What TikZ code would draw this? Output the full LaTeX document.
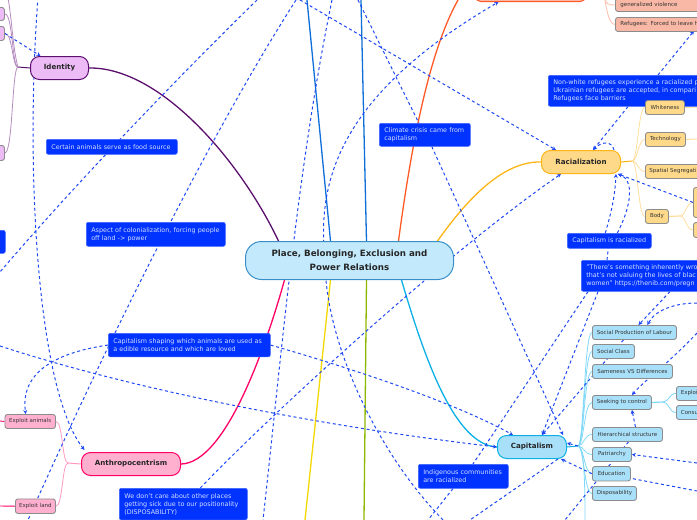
\documentclass[tikz,border=0pt]{standalone}
\usepackage{fontspec}
\setmainfont{DejaVu Sans}
\usetikzlibrary{arrows.meta}
\pgfdeclarelayer{bg}
\pgfsetlayers{bg,main}
\definecolor{dashc}{HTML}{1F48F5}
\definecolor{notef}{HTML}{0033FF}
\definecolor{notee}{HTML}{3D63FF}
\definecolor{notet}{HTML}{D5DEFF}
\definecolor{ctrf}{HTML}{C3EAFC}
\definecolor{ctre}{HTML}{3A8FC9}
\definecolor{purpc}{HTML}{5C106E}
\definecolor{purpf}{HTML}{EDBBF5}
\definecolor{purpl}{HTML}{B58CC0}
\definecolor{racc}{HTML}{FDB515}
\definecolor{racf}{HTML}{FFD98A}
\definecolor{racl}{HTML}{FFDD9C}
\definecolor{capc}{HTML}{0CB0E5}
\definecolor{capf}{HTML}{A9E0F9}
\definecolor{capl}{HTML}{7FD8F7}
\definecolor{antc}{HTML}{FF0066}
\definecolor{antf}{HTML}{FFB0CF}
\definecolor{antl}{HTML}{FF99C2}
\definecolor{orac}{HTML}{FF5A26}
\definecolor{oraf}{HTML}{F9B8A5}
\definecolor{oral}{HTML}{FFBFA8}
\definecolor{gbd}{HTML}{8C8C8C}
\definecolor{bluec}{HTML}{0F6FD8}
\definecolor{yelc}{HTML}{F2D800}
\definecolor{grnc}{HTML}{8DB800}
\tikzset{
 x=1pt,y=-1pt,
 note/.style={draw=notee,fill=notef,text=notet,rounded corners=2pt,line width=.6pt,inner xsep=5pt,inner ysep=0pt,align=left,anchor=north west,font=\fontsize{6.4}{8}\selectfont},
 leaf/.style={draw=gbd,rounded corners=2.5pt,line width=.9pt,inner sep=0pt,anchor=north west,text=black!80,font=\fontsize{5.5}{7}\selectfont},
 mainbox/.style={rounded corners=9pt,line width=1pt,inner sep=0pt,anchor=north west,text=black!85,font=\bfseries\fontsize{7.1}{8}\selectfont},
 dashlink/.style={draw=dashc,line width=1pt,dash pattern=on 3pt off 2.7pt},
 dasharrow/.style={dashlink,-{Stealth[length=4pt,width=4pt]}},
 fan/.style={line width=.8pt},
}
\begin{document}
\begin{tikzpicture}
\useasboundingbox (0,0) rectangle (697,520);
\clip (0,0) rectangle (697,520);
% centre and topics
\node[draw=ctre,fill=ctrf,rounded corners=16pt,line width=1pt,inner sep=0pt,anchor=north west,minimum width=208pt,minimum height=38pt,align=center,text=black!85,font=\bfseries\fontsize{8.7}{14}\selectfont] (c) at (245,241) {Place, Belonging, Exclusion and\\Power Relations};
\node[mainbox,draw=purpc,fill=purpf,minimum width=58pt,minimum height=23pt] (identity) at (30,56) {Identity};
\node[mainbox,draw=racc,fill=racf,minimum width=79pt,minimum height=23pt] (racial) at (541,150) {Racialization};
\node[mainbox,draw=capc,fill=capf,minimum width=69pt,minimum height=23pt] (capital) at (497,435) {Capitalism};
\node[mainbox,draw=antc,fill=antf,minimum width=99pt,minimum height=23pt] (anthro) at (81,452) {Anthropocentrism};
\node[mainbox,draw=orac,fill=oraf,rounded corners=5pt,minimum width=110pt,minimum height=20pt] (climate) at (475,-19) {};
% notes
\node[note,text width=121pt,minimum height=15pt] (n1) at (46,139) {Certain animals serve as food source};
\node[note,text width=129pt,minimum height=24pt] (n2) at (86,222) {Aspect of colonialization, forcing people\\off land -> power};
\node[note,text width=152pt,minimum height=23.5pt] (n3) at (108,333) {Capitalism shaping which animals are used as\\a edible resource and which are loved};
\node[note,text width=118pt,minimum height=31.5pt] (n4) at (119,488) {We don't care about other places\\getting sick due to our positionality\\(DISPOSABILITY)};
\node[note,text width=81pt,minimum height=23pt] (n5) at (379,123) {Climate crisis came from\\capitalism};
\node[note,text width=80pt,minimum height=24pt] (n6) at (418,464) {Indigenous communities\\are racialized};
\node[note,text width=74pt,minimum height=15pt] (n7) at (567,233) {Capitalism is racialized};
\node[note,text width=190pt,minimum height=31pt] (n8) at (548,75) {Non-white refugees experience a racialized p\\Ukrainian refugees are accepted, in compari\\Refugees face barriers};
\node[note,text width=190pt,minimum height=31pt] (n9) at (581,260) {"There's something inherently wro\\that's not valuing the lives of blac\\women" https://thenib.com/pregn};
\node[note,text width=40pt,minimum height=23pt] (n10) at (-45,230) {};
% identity leaves
\node[leaf,fill=purpf,minimum width=14pt,minimum height=13pt] (i1) at (-10,7) {};
\node[leaf,fill=purpf,minimum width=14pt,minimum height=14pt] (i2) at (-10,26) {};
\node[leaf,fill=purpf,minimum width=14pt,minimum height=15pt] (i3) at (-10,145) {};
% anthropocentrism leaves
\node[leaf,fill=antf,minimum width=50.5pt,minimum height=14pt] (animals) at (4.5,414) {Exploit animals};
\node[leaf,fill=antf,minimum width=40pt,minimum height=14.5pt] (land) at (15,498.5) {Exploit land};
% climate leaves
\node[leaf,fill=oraf,text width=120pt,inner xsep=5pt,minimum height=13pt,align=left] (gen) at (615,-2) {generalized violence};
\node[leaf,fill=oraf,text width=120pt,inner xsep=5pt,minimum height=14pt,align=left] (refu) at (615,17) {Refugees: Forced to leave h};
% racialization leaves
\node[leaf,fill=racf,minimum width=39pt,minimum height=14pt] (white) at (645,100) {Whiteness};
\node[leaf,fill=racf,minimum width=40pt,minimum height=14pt] (tech) at (645,132) {Technology};
\node[leaf,fill=racf,text width=70pt,inner xsep=4pt,minimum height=14pt,align=left] (spatial) at (645,164) {Spatial Segregati};
\node[leaf,fill=racf,minimum width=23pt,minimum height=14pt] (body) at (645,209) {Body};
\node[leaf,fill=racf,minimum width=30pt,minimum height=30pt] (b1) at (693,187) {};
\node[leaf,fill=racf,minimum width=30pt,minimum height=15pt] (b2) at (693,222) {};
% capitalism leaves
\node[leaf,fill=capf,minimum width=84pt,minimum height=14pt] (prod) at (592,325) {Social Production of Labour};
\node[leaf,fill=capf,minimum width=42pt,minimum height=14pt] (class) at (592,344) {Social Class};
\node[leaf,fill=capf,minimum width=80pt,minimum height=14pt] (same) at (592,364) {Sameness VS Differences};
\node[leaf,fill=capf,minimum width=59pt,minimum height=14pt] (seek) at (592,395) {Seeking to control};
\node[leaf,fill=capf,minimum width=70pt,minimum height=14pt] (hier) at (592,427) {Hierarchical structure};
\node[leaf,fill=capf,minimum width=39pt,minimum height=14pt] (patr) at (592,447) {Patriarchy};
\node[leaf,fill=capf,minimum width=38pt,minimum height=14.5pt] (edu) at (592,466) {Education};
\node[leaf,fill=capf,minimum width=44pt,minimum height=14pt] (disp) at (592,486) {Disposability};
\node[leaf,fill=capf,text width=40pt,inner xsep=4.5pt,minimum height=14pt,align=left] (expl) at (676,386) {Exploi};
\node[leaf,fill=capf,text width=40pt,inner xsep=4.5pt,minimum height=14pt,align=left] (cons) at (676,405) {Consu};
% free ends
\coordinate (t1) at (38,-3);
\coordinate (t2) at (257,0);
\coordinate (l2) at (0,272);
\coordinate (t3) at (296,0);
\coordinate (b3) at (28,520);
\coordinate (l4) at (0,346);
\coordinate (t5) at (332,0);
\coordinate (b5) at (263,520);
\coordinate (b6) at (443,520);
\coordinate (m6) at (325,260);
\coordinate (t7) at (295,-3);
\coordinate (t8) at (358,0);
\coordinate (r9) at (697,303);
\coordinate (r10) at (697,333);
\coordinate (r11) at (697,463);
\coordinate (r12) at (697,491);
\coordinate (b13) at (428,520);
\coordinate (b14) at (565,520);
\coordinate (b15) at (470,520);
\coordinate (tb1) at (8,-2);
\coordinate (be) at (305,520);
\coordinate (bg) at (364,520);
\coordinate (bo) at (458,0);
\coordinate (tb) at (307,0);
\coordinate (tb2) at (361,0);
\coordinate (bc) at (585,520);
\coordinate (hi) at (18,67);
\coordinate (ha) at (68,463);
\coordinate (hr) at (632,161);
\coordinate (hb) at (680,216);
\coordinate (hc) at (578,446);
\coordinate (hs) at (663,402);
\coordinate (ho) at (604,-5);
\coordinate (wr) at (697,107);
\coordinate (tr) at (697,139);
\coordinate (la) at (0,421);
\coordinate (ll) at (0,506);
\begin{pgfonlayer}{bg}
% main branches
\draw[purpc,line width=1.3pt] ([xshift=-71pt]c.north) .. controls (240,160) and (160,67) .. (identity.east);
\draw[antc,line width=1.3pt] ([xshift=-65pt]c.south) .. controls (265,350) and (225,463) .. (anthro.east);
\draw[orac,line width=1.3pt] ([xshift=49pt]c.north) .. controls (412,140) and (430,50) .. (bo);
\draw[racc,line width=1.3pt] ([xshift=88pt]c.north) .. controls (470,195) and (505,161) .. (racial.west);
\draw[capc,line width=1.3pt] ([xshift=52pt]c.south) .. controls (425,360) and (455,445) .. (capital.west);
\draw[bluec,line width=1.3pt] ([xshift=-19pt]c.north) -- (tb);
\draw[bluec,line width=1.3pt] ([xshift=17pt]c.north) -- (tb2);
\draw[yelc,line width=1.3pt] ([xshift=-19pt]c.south) -- (be);
\draw[grnc,line width=1.3pt] ([xshift=17pt]c.south) -- (bg);
% fans
\draw[purpc,line width=1pt] (identity.west) -- (hi);
\foreach \n in {i1,i2,i3} \draw[purpl,fan] (hi) .. controls (12,67) and ([xshift=8pt]\n.east) .. (\n.east);
\draw[purpl,fan] (hi) .. controls (13,50) and (12,20) .. (tb1);
\draw[antl,line width=1pt] (anthro.west) -- (ha);
\foreach \n in {animals,land} \draw[antl,fan] (ha) .. controls (62,463) and ([xshift=7pt]\n.east) .. (\n.east);
\draw[antc,line width=.9pt] (animals.west) -- (la);
\draw[antc,line width=.9pt] (land.west) -- (ll);
\draw[racc,line width=1pt] (racial.east) -- (hr);
\foreach \n in {white,tech,spatial,body} \draw[racl,fan] (hr) .. controls (638,161) and ([xshift=-7pt]\n.west) .. (\n.west);
\draw[racl,line width=1pt] (white.east) -- (wr);
\draw[racl,line width=1pt] (tech.east) -- (tr);
\draw[racl,line width=1.2pt] (body.east) -- (hb);
\foreach \n in {b1,b2} \draw[racl,fan] (hb) .. controls (686,216) and ([xshift=-7pt]\n.west) .. (\n.west);
\draw[capc,line width=1pt] (capital.east) -- (hc);
\foreach \n in {prod,class,same,seek,hier,patr,edu,disp} \draw[capl,fan] (hc) .. controls (584,446) and ([xshift=-8pt]\n.west) .. (\n.west);
\draw[capl,fan] (hc) .. controls (584,446) and (585,480) .. (bc);
\draw[capl,line width=1.2pt] (seek.east) -- (hs);
\foreach \n in {expl,cons} \draw[capl,fan] (hs) .. controls (669,402) and ([xshift=-7pt]\n.west) .. (\n.west);
\foreach \n in {gen,refu} \draw[oral,fan] (ho) .. controls (606,5) and ([xshift=-7pt]\n.west) .. (\n.west);
% dashed connectors
\draw[dasharrow] (t1) .. controls (25,170) and (37,390) .. ([xshift=-46.5pt,yshift=2pt]anthro.north);
\draw[dasharrow] (i2.east) -- ([xshift=-19pt]identity.north);
\draw[dashlink] (t2) .. controls (170,85) and (70,190) .. (l2);
\draw[dashlink] (t3) .. controls (200,150) and (90,380) .. (b3);
\draw[dasharrow] (n3.west) .. controls (60,352) and (20,370) .. ([xshift=-4.5pt]animals.north);
\draw[dasharrow] (l4) .. controls (150,395) and (350,430) .. (capital.west);
\draw[dasharrow] (n3.east) .. controls (340,365) and (450,400) .. ([xshift=-19pt]capital.north);
\draw[dasharrow] ([xshift=17pt]n4.north) .. controls (270,415) and (450,250) .. ([xshift=-20pt]racial.south);
\draw[dashlink] (t5) .. controls (297,170) and (282,350) .. (b5);
\draw[dashlink] (b6) .. controls (375,450) and (325,340) .. (m6);
\draw[dasharrow] (m6) .. controls (318,190) and (330,100) .. ([xshift=-32pt]climate.south);
\draw[dasharrow] (t7) -- ([xshift=-25pt]racial.north);
\draw[dashlink] (t8) -- ([xshift=-6pt]n5.north);
\draw[dasharrow] ([xshift=7pt]n5.south) -- ([xshift=31pt]capital.north);
\draw[dasharrow] ([xshift=80pt]n8.south west) -- ([xshift=12pt]racial.north);
\draw[dasharrow] ([xshift=110pt]n8.north west) -- ([xshift=79pt,yshift=1pt]refu.south west);
\draw[dasharrow] ([xshift=33pt]racial.north) .. controls (612,141) and (602,141) .. ([xshift=12pt]racial.north);
\draw[dasharrow] ([xshift=-4pt]n7.north) .. controls (612,210) and (615,195) .. ([xshift=35pt]racial.south);
\draw[dasharrow] ([xshift=8pt]n7.north) .. controls (632,205) and (634,180) .. ([xshift=37pt]racial.south);
\draw[dasharrow] (b1.west) -- ([xshift=37pt]racial.south);
\draw[dashlink] ([xshift=26pt]n9.north west) -- ([xshift=-1pt]n7.south);
\draw[dashlink] ([xshift=7pt]n9.south west) -- ([xshift=55pt]n6.north west);
\draw[dasharrow] ([xshift=17pt]n9.south west) -- ([xshift=10pt]capital.north);
\draw[dashlink] ([xshift=35pt]n6.south west) -- (b13);
\draw[dasharrow] ([xshift=89pt]n9.south west) -- ([xshift=4pt]prod.north);
\draw[dasharrow] (r9) .. controls (675,303) and (655,310) .. ([xshift=13pt]prod.north);
\draw[dasharrow] ([xshift=-11pt]prod.south) -- ([xshift=10pt]capital.north);
\draw[dasharrow] (r10) .. controls (670,362) and (645,380) .. ([xshift=10pt]seek.north);
\draw[dasharrow] ([xshift=8pt]hier.north) -- ([xshift=10pt]seek.south);
\draw[dasharrow] (r11) -- (patr.east);
\draw[dashlink] ([xshift=2pt,yshift=-5pt]edu.east) -- (r12);
\draw[dashlink] ([xshift=1pt]hier.south) -- (b14);
\draw[dasharrow] (hc) -- ([yshift=4pt]capital.east);
\draw[dasharrow] (edu.west) -- ([xshift=29pt]capital.south);
\draw[dashlink] ([xshift=26pt]capital.south) -- (b15);
\end{pgfonlayer}
\end{tikzpicture}
\end{document}
